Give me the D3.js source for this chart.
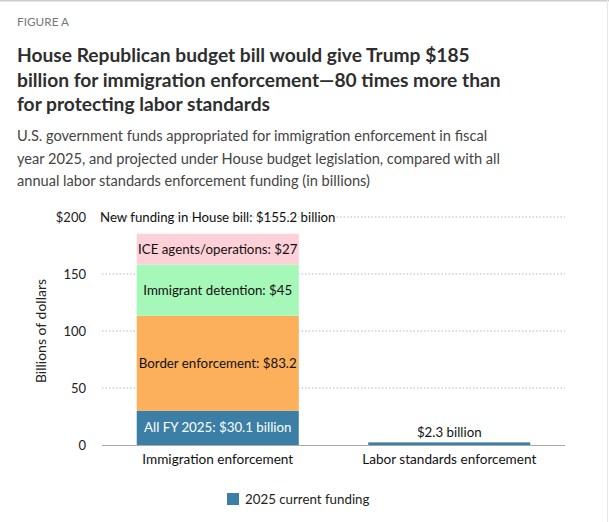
<!DOCTYPE html>
<html><head><meta charset="utf-8">
<script src="https://cdn.jsdelivr.net/npm/d3@7"></script>
<style>
html,body{margin:0;padding:0;background:#fff;}
svg{display:block;font-family:Lato,"Open Sans",sans-serif;}
</style></head>
<body>
<svg id="c" width="609" height="522"></svg>
<script>
const categories = ["Immigration enforcement", "Labor standards enforcement"];
const segmentNames = ["All FY 2025: $30.1 billion", "Border enforcement: $83.2", "Immigrant detention: $45", "ICE agents/operations: $27"];
const immigrationValues = [30.1, 83.2, 45, 27];
const laborValues = [2.3, 0, 0, 0];
const segmentColors = ["#3b7fa6", "#fdb05b", "#a6f8b9", "#fed0d7"];
const labelColors = ["#ffffff", "#111111", "#111111", "#111111"];
const yTicks = [0, 50, 100, 150, 200];
const yTickLabels = ["0", "50", "100", "150", "$200"];
const topNote = "New funding in House bill: $155.2 billion";
const laborNote = "$2.3 billion";
const legendLabel = "2025 current funding";

const svg = d3.select("#c");
svg.append("line").attr("x1",0).attr("x2",609).attr("y1",0.5).attr("y2",0.5).attr("stroke","#cccccc").attr("stroke-width",2);
svg.append("line").attr("x1",607.5).attr("x2",607.5).attr("y1",0).attr("y2",522).attr("stroke","#e6e6e6").attr("stroke-width",1);

svg.append("text").attr("x",17).attr("y",26).attr("font-size",11.8).attr("fill","#777").text("FIGURE A");
const titleLines = ["House Republican budget bill would give Trump $185","billion for immigration enforcement\u201480 times more than","for protecting labor standards"];
titleLines.forEach((t,i)=>svg.append("text").attr("x",17).attr("y",62+i*24.5).attr("font-size",19.2).attr("font-weight",700).attr("fill","#2e2e2e").text(t));
const subLines = ["U.S. government funds appropriated for immigration enforcement in fiscal","year 2025, and projected under House budget legislation, compared with all","annual labor standards enforcement funding (in billions)"];
subLines.forEach((t,i)=>svg.append("text").attr("x",17).attr("y",141+i*22.5).attr("font-size",14.6).attr("fill","#444").text(t));

const x0 = 102, x1 = 565, yBase = 445, yTop = 217;
const x = d3.scaleBand().domain(categories).range([x0,x1]).paddingInner(0.3).paddingOuter(0.15);
const y = d3.scaleLinear().domain([0,200]).range([yBase,yTop]);

svg.append("g").selectAll("line").data(yTicks.filter(d=>d>0)).join("line")
  .attr("x1",x0).attr("x2",x1).attr("y1",d=>y(d)).attr("y2",d=>y(d))
  .attr("stroke","#d0d0d0").attr("stroke-width",1.3).attr("stroke-dasharray","1.5,2");
svg.append("g").selectAll("text").data(yTicks).join("text")
  .attr("x",86).attr("y",d=>y(d)).attr("dy","0.35em").attr("text-anchor","end")
  .attr("font-size",13).attr("fill","#222").text((d,i)=>yTickLabels[i]);
svg.append("text").attr("transform",`translate(46,331) rotate(-90)`)
  .attr("text-anchor","middle").attr("font-size",14).attr("fill","#222").text("Billions of dollars");

const data = [immigrationValues, laborValues];
data.forEach((vals,ci)=>{
  let acc = 0;
  vals.forEach((v,si)=>{
    if(v<=0) return;
    const y0 = acc, y1 = acc+v; acc = y1;
    svg.append("rect").attr("x",x(categories[ci])).attr("width",x.bandwidth())
      .attr("y",y(y1)).attr("height",y(y0)-y(y1)).attr("fill",segmentColors[si]);
    if(ci===0){
      svg.append("text").attr("x",x(categories[ci])+x.bandwidth()/2).attr("y",(y(y0)+y(y1))/2)
        .attr("dy","0.35em").attr("text-anchor","middle").attr("font-size",13.3)
        .attr("fill",labelColors[si]).text(segmentNames[si]);
    }
  });
});
svg.append("line").attr("x1",x0).attr("x2",x1).attr("y1",yBase+0.5).attr("y2",yBase+0.5).attr("stroke","#aaa").attr("stroke-width",1);

svg.append("text").attr("x",x(categories[0])+x.bandwidth()/2).attr("y",y(200)).attr("dy","0.35em")
  .attr("text-anchor","middle").attr("font-size",13.2).attr("fill","#111").text(topNote);
svg.append("text").attr("x",x(categories[1])+x.bandwidth()/2).attr("y",y(laborValues[0])-5)
  .attr("text-anchor","middle").attr("font-size",13.3).attr("fill","#111").text(laborNote);

svg.append("g").selectAll("text").data(categories).join("text")
  .attr("x",d=>x(d)+x.bandwidth()/2).attr("y",459).attr("dy","0.35em").attr("text-anchor","middle")
  .attr("font-size",13.6).attr("fill","#111").text(d=>d);

svg.append("rect").attr("x",227).attr("y",493).attr("width",12).attr("height",12).attr("fill",segmentColors[0]);
svg.append("text").attr("x",245).attr("y",499).attr("dy","0.35em").attr("font-size",13.3).attr("fill","#222").text(legendLabel);
</script>
</body></html>
